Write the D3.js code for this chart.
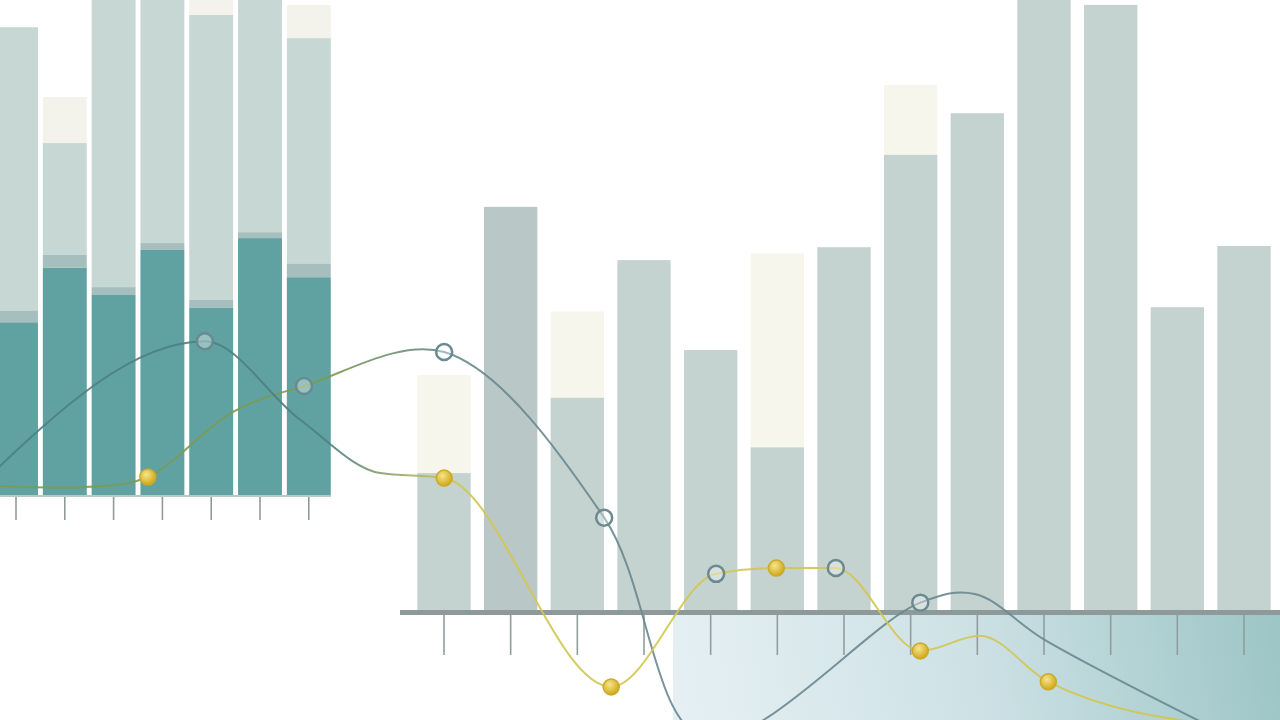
<!DOCTYPE html>
<html><head><meta charset="utf-8">
<script src="https://cdn.jsdelivr.net/npm/d3@7"></script>
<style>html,body{margin:0;padding:0;background:#fff;overflow:hidden}svg{display:block}</style>
</head><body>
<svg id="c" width="1280" height="720"></svg>
<script>
// ---- data ----
const leftCats = ["L1","L2","L3","L4","L5","L6","L7"];
const leftTeal  = [34.9, 45.9, 40.4, 49.5, 37.8, 51.9, 44.0];
const leftBand  = [2.4, 2.6, 1.6, 1.4, 1.6, 1.2, 2.8];
const leftLight = [57.2, 22.6, 60, 51.1, 57.6, 48.9, 45.5];
const leftCap   = [0, 9.3, 0, 0, 3.0, 0, 6.7];

const rightCats = ["R1","R2","R3","R4","R5","R6","R7","R8","R9","R10","R11","R12","R13"];
const rightVals = [22.7, 66.2, 35.0, 57.5, 42.8, 26.9, 59.6, 74.7, 81.5, 100.8, 99.2, 49.8, 59.8];
const rightCap  = [16.0, 0, 14.1, 0, 0, 31.7, 0, 11.4, 0, 0, 0, 0, 0];

const lineAx = [-0.2, 3.2, 4.69, 5.94, 6.94, 9.55, 11.19, 12.13, 13.06, 14.38, 15.31, 16.38, 19.1];
const lineAy = [33.6, 52.6, 41.7, 34.3, 33.6, 4.6, 20.3, 21.1, 21.1, 9.6, 11.7, 5.3, -0.8];
const lineAm = ["", "o", "", "", "y", "y", "o", "y", "o", "y", "", "y", ""];

const lineBx = [-0.2, 1.41, 2.31, 3.64, 4.75, 6.94, 9.44, 11.0, 14.38, 15.23, 16.33, 18.8];
const lineBy = [32.6, 32.4, 33.75, 42.8, 46.4, 51.1, 28.1, -2.5, 16.3, 17.5, 11.1, -0.4];
const lineBm = ["", "", "y", "", "o", "o", "o", "", "o", "", "", ""];

// ---- drawing ----
const svg = d3.select("#c");
const defs = svg.append("defs");

const bg = defs.append("linearGradient").attr("id","bgG")
  .attr("gradientUnits","userSpaceOnUse").attr("x1",673).attr("y1",720).attr("x2",1280).attr("y2",614);
bg.append("stop").attr("offset",0).attr("stop-color","#e6f0f4");
bg.append("stop").attr("offset",0.5).attr("stop-color","#cde1e5");
bg.append("stop").attr("offset",1).attr("stop-color","#9cc5c6");

const gA = defs.append("linearGradient").attr("id","gA")
  .attr("gradientUnits","userSpaceOnUse").attr("x1",330).attr("y1",0).attr("x2",450).attr("y2",0);
gA.append("stop").attr("offset",0).attr("stop-color","#4e7e86");
gA.append("stop").attr("offset",1).attr("stop-color","#d2c650");
const gB = defs.append("linearGradient").attr("id","gB")
  .attr("gradientUnits","userSpaceOnUse").attr("x1",330).attr("y1",0).attr("x2",450).attr("y2",0);
gB.append("stop").attr("offset",0).attr("stop-color","#7b9a52");
gB.append("stop").attr("offset",1).attr("stop-color","#6a8890");

const yb = defs.append("radialGradient").attr("id","yb").attr("cx","40%").attr("cy","35%").attr("r","65%");
yb.append("stop").attr("offset",0).attr("stop-color","#f6e58a");
yb.append("stop").attr("offset",1).attr("stop-color","#d0a818");

// bottom right tinted area
svg.append("rect").attr("x",673).attr("y",614).attr("width",607).attr("height",106).attr("fill","url(#bgG)");

// left panel
const xL = d3.scaleBand().domain(leftCats).range([-8.4, 333.2]).paddingInner(0.1).paddingOuter(0.05);
const yL = d3.scaleLinear().domain([0,100]).range([495,0]);
const leftStack = leftCats.map((c,i)=>({c, segs:[
  {v0:0, v1:leftTeal[i], col:"#5fa2a1"},
  {v0:leftTeal[i], v1:leftTeal[i]+leftBand[i], col:"#a6bebd"},
  {v0:leftTeal[i]+leftBand[i], v1:leftTeal[i]+leftBand[i]+leftLight[i], col:"#c6d7d4"},
  {v0:leftTeal[i]+leftBand[i]+leftLight[i], v1:leftTeal[i]+leftBand[i]+leftLight[i]+leftCap[i], col:"#f3f3ec"}
]}));
const lg = svg.append("g");
lg.selectAll("g").data(leftStack).join("g").selectAll("rect").data(d=>d.segs.map(s=>({...s,c:d.c}))).join("rect")
  .attr("x",d=>xL(d.c)).attr("width",xL.bandwidth())
  .attr("y",d=>yL(d.v1)).attr("height",d=>Math.max(0,yL(d.v0)-yL(d.v1)))
  .attr("fill",d=>d.col);
svg.append("line").attr("x1",0).attr("x2",331).attr("y1",496).attr("y2",496).attr("stroke","#b9c9c8").attr("stroke-width",2);
const axL = svg.append("g").attr("transform","translate(0,497)")
  .call(d3.axisBottom(xL).tickSize(23).tickFormat(""));
axL.select(".domain").remove();
axL.selectAll("line").attr("stroke","#8f9b9b").attr("stroke-width",1.6);

// right panel
const xR = d3.scaleBand().domain(rightCats).range([404, 1284]).paddingInner(0.2).paddingOuter(0.2);
const yR = d3.scaleLinear().domain([0,100]).range([612,0]);
svg.append("g").selectAll("rect.cap").data(rightCats).join("rect").attr("class","cap")
  .attr("x",d=>xR(d)).attr("width",xR.bandwidth())
  .attr("y",(d,i)=>yR(rightVals[i]+rightCap[i])).attr("height",(d,i)=>yR(rightVals[i])-yR(rightVals[i]+rightCap[i]))
  .attr("fill","#f7f6ec");
svg.append("g").selectAll("rect.bar").data(rightCats).join("rect").attr("class","bar")
  .attr("x",d=>xR(d)).attr("width",xR.bandwidth())
  .attr("y",(d,i)=>yR(rightVals[i])).attr("height",(d,i)=>yR(0)-yR(rightVals[i]))
  .attr("fill",(d,i)=>i===1?"#b9c8c6":"#c4d2d0");
svg.append("rect").attr("x",400).attr("y",610).attr("width",880).attr("height",5).attr("fill","#8e9999");
const axR = svg.append("g").attr("transform","translate(0,615)")
  .call(d3.axisBottom(xR).tickSize(40).tickFormat(""));
axR.select(".domain").remove();
axR.selectAll("line").attr("stroke","#929d9d").attr("stroke-width",1.6);

// lines
const xP = d3.scaleLinear().domain([0,20]).range([0,1280]);
const yP = d3.scaleLinear().domain([0,100]).range([720,0]);
const lineMono = d3.line().x(d=>xP(d[0])).y(d=>yP(d[1])).curve(d3.curveMonotoneX);
const lineCR = d3.line().x(d=>xP(d[0])).y(d=>yP(d[1])).curve(d3.curveCatmullRom.alpha(0.5));
const A = lineAx.map((x,i)=>[x,lineAy[i],lineAm[i]]);
const B = lineBx.map((x,i)=>[x,lineBy[i],lineBm[i]]);
svg.append("path").datum(B).attr("d",lineCR).attr("fill","none").attr("stroke","url(#gB)").attr("stroke-width",2).attr("opacity",0.9);
svg.append("path").datum(A).attr("d",lineMono).attr("fill","none").attr("stroke","url(#gA)").attr("stroke-width",2).attr("opacity",0.9);

const pts = A.concat(B).filter(d=>d[2]);
svg.append("g").selectAll("circle").data(pts).join("circle")
  .attr("cx",d=>xP(d[0])).attr("cy",d=>yP(d[1])).attr("r",8)
  .attr("fill",d=>d[2]==="y"?"url(#yb)":"rgba(255,255,255,0.35)")
  .attr("stroke",d=>d[2]==="y"?"#c9aa2a":"#6b8a90")
  .attr("stroke-width",d=>d[2]==="y"?1.5:2.5);
</script>
</body></html>
